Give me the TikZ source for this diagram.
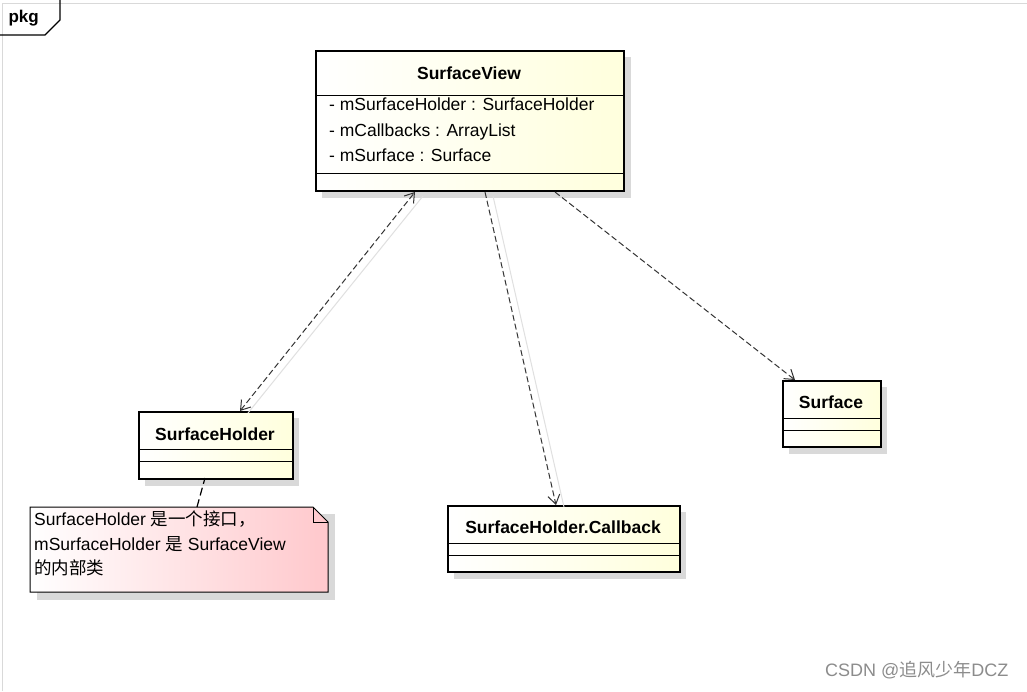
\documentclass[tikz,border=0pt]{standalone}
\usepackage{fontspec}
\setmainfont{Liberation Sans}
\newfontfamily\cjk{Noto Sans CJK SC}
\usetikzlibrary{arrows.meta}
\definecolor{boxfill}{HTML}{FFFFDD}
\definecolor{notefill}{HTML}{FFC8CC}
\begin{document}
\begin{tikzpicture}[x=1pt,y=-1pt,
  cls/.style={draw=black,line width=1.8pt},
  sh/.style={fill=black!15,draw=none},
  sep/.style={line width=0.9pt},
  ttl/.style={font=\fontsize{17.5}{20}\selectfont\bfseries},
  dep/.style={draw=black!80,line width=1pt,dash pattern=on 6pt off 3pt,-{Straight Barb[length=9pt,width=12pt]}},
  cshadow/.style={draw=black!12,line width=1pt}]
\useasboundingbox (0,0) rectangle (1027,691);
\fill[white] (0,0) rectangle (1027,691);
% frame
\draw[black!15,line width=1pt] (2,691) -- (2,3) -- (1027,3);
\draw[line width=1.2pt] (0,35) -- (45,35) -- (60,20) -- (60,0);
\node[anchor=west,font=\fontsize{17}{20}\selectfont\bfseries] (pkg) at (5,18) {pkg};
% shadows
\fill[sh] (322,57) rectangle (631,198);
\fill[sh] (145,418) rectangle (299,486);
\fill[sh] (789,387) rectangle (887,454);
\fill[sh] (454,512) rectangle (686,579);
\fill[sh] (37,514) rectangle (335,600);
% SurfaceView
\shade[left color=white,right color=boxfill] (315,50) rectangle (623,190);
\draw[sep] (315,95) -- (623,95);
\draw[sep] (315,173) -- (623,173);
\node[cls,minimum width=308pt,minimum height=140pt,anchor=north west] (sv) at (315,50) {};
\node[ttl] (svt) at (469,73) {SurfaceView};
\node[anchor=north west,align=left,font=\fontsize{17.5}{25.5}\selectfont,inner sep=0pt] (sva) at (329,98)
 {- mSurfaceHolder : SurfaceHolder\\- mCallbacks : ArrayList\\- mSurface : Surface};
% SurfaceHolder
\shade[left color=white,right color=boxfill] (138,411) rectangle (292,478);
\draw[sep] (138,449) -- (292,449); \draw[sep] (138,461) -- (292,461);
\node[cls,minimum width=154pt,minimum height=67pt,anchor=north west] (sh) at (138,411) {};
\node[ttl] (sht) at (215,434) {SurfaceHolder};
% Surface
\shade[left color=white,right color=boxfill] (782,380) rectangle (880,446);
\draw[sep] (782,418) -- (880,418); \draw[sep] (782,430) -- (880,430);
\node[cls,minimum width=98pt,minimum height=66pt,anchor=north west] (s) at (782,380) {};
\node[ttl] (st) at (831,402) {Surface};
% Callback
\shade[left color=white,right color=boxfill] (447,505) rectangle (679,571);
\draw[sep] (447,543) -- (679,543); \draw[sep] (447,555) -- (679,555);
\node[cls,minimum width=232pt,minimum height=66pt,anchor=north west] (cb) at (447,505) {};
\node[ttl] (cbt) at (563,527) {SurfaceHolder.Callback};
% note
\shade[left color=white,right color=notefill] (30,507) -- (313,507) -- (328,522) -- (328,592) -- (30,592) -- cycle;
\draw[line width=1pt] (30,507) -- (313,507) -- (328,522) -- (328,592) -- (30,592) -- cycle;
\draw[line width=1pt] (313,507) -- (313,522) -- (328,522);
\node[anchor=north west,align=left,inner sep=0pt,font=\fontsize{17.5}{24.5}\selectfont] (note) at (34,511)
 {SurfaceHolder {\cjk 是一个接口，}\\mSurfaceHolder {\cjk 是} SurfaceView\\{\cjk 的内部类}};
\coordinate (n1) at (197,507);
\coordinate (h1) at (205,478);
\draw[line width=1.2pt,dash pattern=on 8pt off 4pt] (n1) -- (h1);
% connector shadows
\draw[cshadow] (248,413) -- (423,196);
\draw[cshadow] (493,196) -- (564,507);
% connectors
\coordinate (a1) at (240,411); \coordinate (a2) at (415,192);
\draw[dep,{Straight Barb[length=9pt,width=12pt]}-{Straight Barb[length=9pt,width=12pt]}] (a1) -- (a2);
\coordinate (b1) at (485,192); \coordinate (b2) at (556,505);
\draw[dep] (b1) -- (b2);
\coordinate (c1) at (555,192); \coordinate (c2) at (795,380);
\draw[dep] (c1) -- (c2);
% watermark
\node[anchor=east,text=black!45,font=\fontsize{18}{20}\selectfont] (wm) at (1012,670) {CSDN @{\cjk 追风少年}DCZ};
\end{tikzpicture}
\end{document}
